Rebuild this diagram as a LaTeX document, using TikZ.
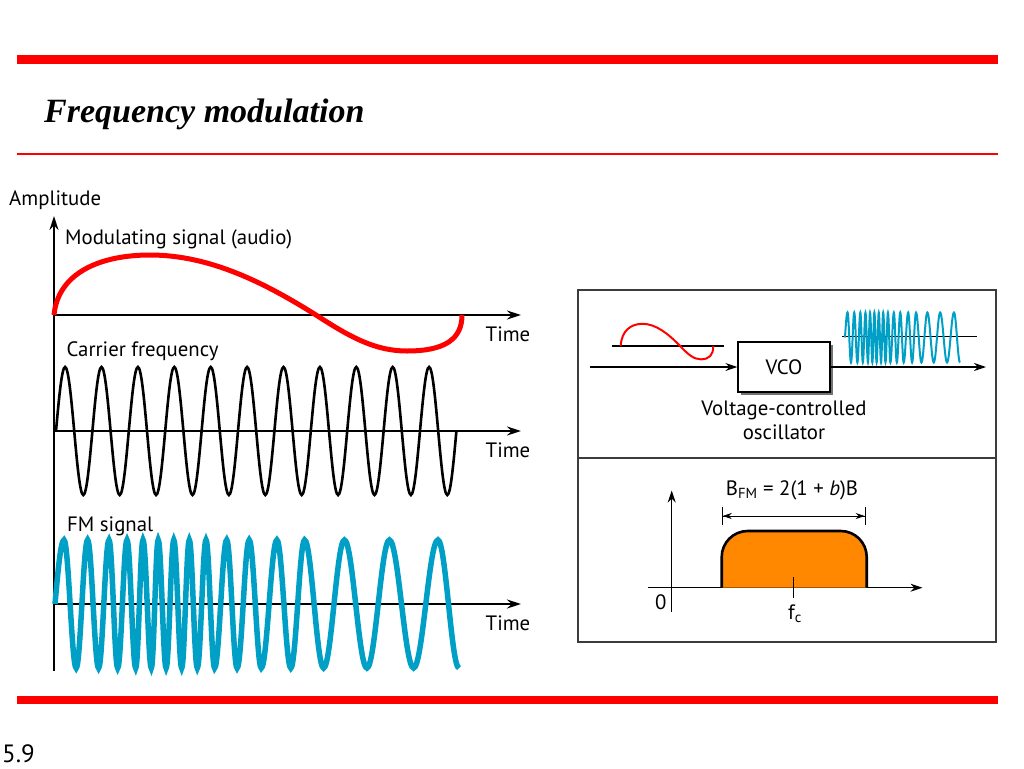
\documentclass[tikz,border=0pt]{standalone}
\usepackage{fontspec}
\setmainfont{Liberation Serif}
\newfontfamily\labelfont{PT Sans}
\usetikzlibrary{arrows.meta,shadows}

\definecolor{slidered}{RGB}{255,0,0}
\definecolor{fmblue}{RGB}{0,160,198}
\definecolor{bandorange}{RGB}{255,136,0}
\definecolor{framegray}{RGB}{60,60,60}

\tikzset{
  axis/.style={line width=1.6pt, -{Stealth[length=14pt,width=9pt]}},
  smallaxis/.style={line width=1.4pt, -{Stealth[length=12pt,width=8pt]}},
  audio/.style={slidered, line width=5pt},
  carrier/.style={black, line width=2.6pt},
  fm/.style={fmblue, line width=5.5pt},
  lbl/.style={font=\labelfont\fontsize{20.8}{24}\selectfont, inner sep=0pt},
  vcobox/.style={draw=black, line width=1.2pt, fill=white, minimum width=92pt, minimum height=50pt,
    drop shadow={shadow xshift=3pt, shadow yshift=-3pt, fill=black!55, opacity=1}},
}

% modulating signal, axis at y=0
\newcommand{\audiowave}{(54,0) .. controls (58,-42) and (100,-60) .. (150,-60)
  .. controls (210,-60) and (265,-32) .. (316,0)
  .. controls (350,22) and (375,36) .. (407,36)
  .. controls (445,36) and (462,24) .. (462,0)}

% FM signal, axis at y=0, amplitude 1
\newcommand{\fmwave}{(55,0) sin (64,-1)
  \foreach \za/\tr/\zb/\pk in {70.1/76.2/81.9/87.6, 93.1/98.6/103.8/109, 113.4/117.7/122.4/127,
    131.4/135.7/139.4/143, 147.2/151.3/154.8/158.2, 162.2/166.1/170/173.8,
    177.8/181.7/185.5/189.3, 193.3/197.3/201.7/206, 210.3/214.6/220.7/226.7,
    231.9/237.1/243.2/249.2, 255.3/261.3/269.1/276.9, 283.9/290.8/297.7/304.6,
    314.1/323.6/334/344.4, 355.7/366.9/378.2/389.4, 401.5/413.6/425.8/437.9}
  { cos (\za,0) sin (\tr,1) cos (\zb,0) sin (\pk,-1) }
  cos (448.5,0) sin (459,1)}

\begin{document}
\begin{tikzpicture}[x=1pt, y=-1pt]
\useasboundingbox (0,0) rectangle (1024,768);

% slide frame
\fill [slidered] (17,55.5) rectangle (998,63.5);
\draw [slidered, line width=2pt] (17,154) -- (998,154);
\fill [slidered] (17,695.5) rectangle (998,703.5);
\node [font=\bfseries\itshape\fontsize{34}{40}\selectfont, anchor=base west, inner sep=0pt] (title) at (44,122) {Frequency modulation};
\node [lbl, font=\labelfont\fontsize{25}{30}\selectfont, anchor=base west] (page) at (2,762) {5.9};

% left: the three signals
\coordinate (o) at (54,671);
\coordinate (amptop) at (54,216);
\draw [axis] (o) -- (amptop);
\node [lbl, anchor=base west] (amp) at (9,205) {Amplitude};

\coordinate (t1) at (54,315);
\coordinate (t1end) at (521,315);
\coordinate (t2) at (54,431);
\coordinate (t2end) at (521,431);
\coordinate (t3) at (54,604);
\coordinate (t3end) at (521,604);
\foreach \t/\y in {t1/315, t2/431, t3/604} {
  \draw [axis] (\t) -- (\t end);
  \node [lbl, anchor=base west] (\t time) at (485.5,\y+26) {Time};
}

\node [lbl, anchor=base west] (modlbl) at (65,244) {Modulating signal (audio)};
\node [lbl, anchor=base west] (carlbl) at (66.5,356.5) {Carrier frequency};
\node [lbl, anchor=base west] (fmlbl) at (67,531) {FM signal};

\begin{scope}[shift={(0,315)}]
  \draw [audio] \audiowave;
\end{scope}

\draw [carrier] (56,431) \foreach \i in {1,...,11} { sin ++(9.1,-64) cos ++(9.1,64) sin ++(9.1,64) cos ++(9.1,-64) };

\begin{scope}[shift={(0,604)}, yscale=64]
  \draw [fm] \fmwave;
\end{scope}

% right: panels
\draw [framegray, line width=1.5pt] (578,290) rectangle (996,642);
\draw [framegray, line width=1.5pt] (578,458) -- (996,458);

% VCO
\node [vcobox] (vco) at (784,367) {};
\node [lbl] (vcolbl) at (vco) {VCO};
\coordinate (in) at (590,367);
\coordinate (out) at (986,367);
\draw [smallaxis] (in) -- (vco.west);
\draw [smallaxis] (vco.east) -- (out);
\node [lbl, align=center, anchor=north, font=\labelfont\fontsize{20.8}{23.5}\selectfont] (vconame) at (784,401) {Voltage-controlled\\oscillator};

\draw [line width=1.2pt] (611.7,346) -- (724,346);
\begin{scope}[shift={(608.4,346)}, xscale=0.227, yscale=0.37]
  \draw [slidered, line width=2pt] \audiowave;
\end{scope}

\draw [line width=1.2pt] (842,336.5) -- (977,336.5);
\begin{scope}[shift={(829.3,337.5)}, xscale=0.2847, yscale=25]
  \draw [fmblue, line width=2pt] \fmwave;
\end{scope}

% spectrum
\coordinate (f0) at (671.7,611.7);
\coordinate (ftop) at (671.7,490.5);
\coordinate (fl) at (647.7,587.7);
\coordinate (fr) at (922.5,587.7);
\draw [smallaxis] (f0) -- (ftop);
\draw [smallaxis] (fl) -- (fr);
\draw [line width=2.6pt, fill=bandorange, rounded corners=26pt]
  (721.7,587.7) -- (721.7,531) -- (866.7,531) -- (866.7,587.7);
\draw [line width=1.4pt] (793.3,577.3) -- (793.3,598.3);
\node [lbl, anchor=base west] (zero) at (655,609.5) {0};
\node [lbl, anchor=base] (fc) at (795,619.3) {f\textsubscript{c}};

\coordinate (bl) at (721.7,516);
\coordinate (br) at (865.7,516);
\draw [line width=1pt, {Bar[width=18pt]Stealth[length=9pt,width=6pt]}-{Stealth[length=9pt,width=6pt]Bar[width=18pt]}] (bl) -- (br);
\node [lbl, anchor=base] (bfm) at (792,495) {B\textsubscript{FM} = 2(1 + \textit{b})B};

\end{tikzpicture}
\end{document}
